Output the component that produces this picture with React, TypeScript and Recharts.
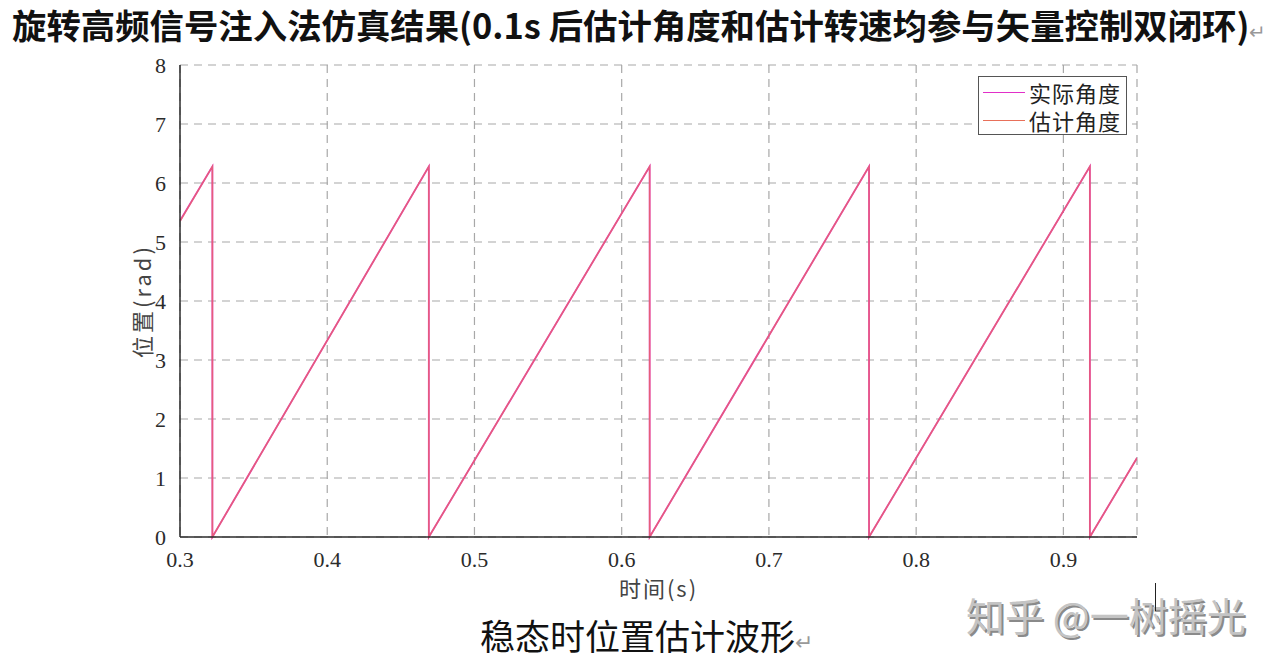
import {
  CartesianGrid,
  Legend,
  Line,
  LineChart,
  XAxis,
  YAxis,
} from 'recharts';

// time (s) at each corner of the sawtooth, and the angle there (rad)
const timeS = [0.3, 0.322, 0.322, 0.469, 0.469, 0.619, 0.619, 0.768, 0.768, 0.918, 0.918, 0.95];
const actualRad = [5.36, 6.28, 0, 6.28, 0, 6.28, 0, 6.28, 0, 6.28, 0, 1.34];
const estimatedRad = [5.35, 6.28, 0, 6.28, 0, 6.28, 0, 6.28, 0, 6.28, 0, 1.34];

const xTicks = [0.3, 0.4, 0.5, 0.6, 0.7, 0.8, 0.9];
const yTicks = [0, 1, 2, 3, 4, 5, 6, 7, 8];

const seriesNames = ['实际角度', '估计角度'];

const data = timeS.map((t, i) => ({
  t,
  actual: actualRad[i],
  estimated: estimatedRad[i],
}));

const cjk = '"Noto Sans CJK SC", "Noto Sans", sans-serif';
const serif = '"Liberation Serif", "DejaVu Serif", serif';
const axisColor = '#2b2b2b';

function LegendBox({ payload }: any) {
  // keep the order the series were declared in
  const items = [...(payload || [])].sort(
    (a: any, b: any) => seriesNames.indexOf(a.value) - seriesNames.indexOf(b.value)
  );
  return (
    <div
      style={{
        border: '1.5px solid #555',
        background: '#fff',
        padding: '1px 4px',
        boxSizing: 'border-box',
        width: 149,
        height: 59,
      }}
    >
      {items.map((p: any) => (
        <div
          key={p.value}
          style={{ display: 'flex', alignItems: 'center', height: 28 }}
        >
          <span
            style={{
              display: 'inline-block',
              width: 42,
              height: 0,
              borderTop: `1.5px solid ${p.color}`,
              marginRight: 4,
            }}
          />
          <span
            style={{
              fontFamily: cjk,
              fontSize: 22,
              letterSpacing: 1,
              color: '#222',
              lineHeight: '24px',
            }}
          >
            {p.value}
          </span>
        </div>
      ))}
    </div>
  );
}

export default function App() {
  return (
    <div
      style={{
        position: 'absolute',
        left: 0,
        top: 0,
        width: 1278,
        height: 668,
        background: '#fff',
        overflow: 'hidden',
      }}
    >
      <div
        style={{
          position: 'absolute',
          left: 12,
          top: 1,
          fontFamily: cjk,
          fontWeight: 700,
          fontSize: 34.4,
          lineHeight: '46px',
          whiteSpace: 'nowrap',
          color: '#111',
        }}
      >
        旋转高频信号注入法仿真结果(0.1s 后估计角度和估计转速均参与矢量控制双闭环)
        <span style={{ color: '#999', fontWeight: 400, fontSize: 20 }}>↵</span>
      </div>

      <div style={{ position: 'absolute', left: 0, top: 0 }}>
        <LineChart
          width={1278}
          height={668}
          data={data}
          margin={{ top: 65, right: 141, left: 0, bottom: 71 }}
        >
          <CartesianGrid
            stroke="#a8a8a8"
            strokeWidth={1.2}
            strokeDasharray="8 6"
          />
          <XAxis
            dataKey="t"
            type="number"
            domain={[0.3, 0.95]}
            ticks={xTicks}
            allowDataOverflow
            height={60}
            tickLine={false}
            tickMargin={8}
            stroke={axisColor}
            strokeWidth={1.5}
            tick={{ fontFamily: serif, fontSize: 22, fill: axisColor }}
            label={{
              value: '时间(s)',
              position: 'insideBottom',
              offset: 0,
              style: { fontFamily: cjk, fontSize: 22, fill: '#444', letterSpacing: 2 },
            }}
          />
          <XAxis
            xAxisId="top"
            orientation="top"
            type="number"
            domain={[0.3, 0.95]}
            height={0}
            tick={false}
            tickLine={false}
            stroke={axisColor}
            strokeWidth={1.5}
          />
          <YAxis
            type="number"
            domain={[0, 8]}
            ticks={yTicks}
            width={180}
            tickLine={false}
            tickMargin={8}
            stroke={axisColor}
            strokeWidth={1.5}
            tick={{ fontFamily: serif, fontSize: 22, fill: axisColor }}
            label={{
              value: '位置(rad)',
              angle: -90,
              position: 'insideLeft',
              offset: 143,
              style: {
                fontFamily: cjk,
                fontSize: 22,
                fill: '#444',
                textAnchor: 'middle',
                letterSpacing: 3,
              },
            }}
          />
          <YAxis
            yAxisId="right"
            orientation="right"
            type="number"
            domain={[0, 8]}
            width={0}
            tick={false}
            tickLine={false}
            stroke={axisColor}
            strokeWidth={1.5}
          />
          <Legend
            layout="vertical"
            align="center"
            verticalAlign="middle"
            content={<LegendBox />}
            wrapperStyle={{ left: 978, top: 76, width: 149, height: 59 }}
          />
          <Line
            type="linear"
            dataKey="actual"
            name={seriesNames[0]}
            stroke="#e12fc8"
            strokeWidth={1.8}
            dot={false}
            activeDot={false}
            isAnimationActive={false}
          />
          <Line
            type="linear"
            dataKey="estimated"
            name={seriesNames[1]}
            stroke="#e8705a"
            strokeOpacity={0.7}
            strokeWidth={1.5}
            dot={false}
            activeDot={false}
            isAnimationActive={false}
          />
        </LineChart>
      </div>

      <div
        style={{
          position: 'absolute',
          left: 480,
          top: 612,
          fontFamily: cjk,
          fontSize: 35,
          lineHeight: '46px',
          whiteSpace: 'nowrap',
          color: '#111',
        }}
      >
        稳态时位置估计波形
        <span style={{ color: '#999', fontSize: 22 }}>↵</span>
      </div>

      <div
        style={{
          position: 'absolute',
          left: 966,
          top: 591,
          fontFamily: cjk,
          fontSize: 39,
          lineHeight: '46px',
          whiteSpace: 'nowrap',
          color: '#c4c4c4',
          textShadow: '2px 2px 0 #8a8a8a',
        }}
      >
        知乎 @一树摇光
      </div>
      <div
        style={{
          position: 'absolute',
          left: 1155,
          top: 583,
          width: 1,
          height: 28,
          background: '#222',
        }}
      />
    </div>
  );
}
